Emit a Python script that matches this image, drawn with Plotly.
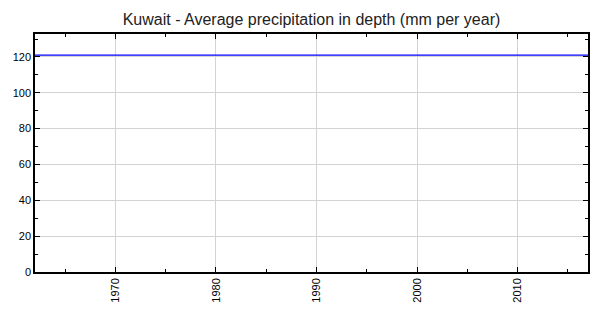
import plotly.graph_objects as go

years = list(range(1962, 2018))
precip = [121] * len(years)

title = "Kuwait - Average precipitation in depth (mm per year)"

fig = go.Figure()
fig.add_trace(go.Scatter(x=years, y=precip, mode="lines",
                         line=dict(color="#0000ff", width=1.3), showlegend=False))

fig.update_layout(
    width=600, height=315,
    margin=dict(l=35, r=10, t=34, b=43),
    paper_bgcolor="white", plot_bgcolor="white",
    title=dict(text=title, xref="paper", x=0.5, xanchor="center", y=0.94, yanchor="middle",
               font=dict(family="Liberation Sans, Arial", size=16, color="#222222")),
    font=dict(family="Liberation Sans, Arial", size=11, color="black"),
)
fig.update_xaxes(range=[1962, 2017], tickmode="array", tickvals=[1970, 1980, 1990, 2000, 2010],
                 ticktext=["1970", "1980", "1990", "2000", "2010"], tickangle=-90,
                 ticks="inside", ticklen=5, tickcolor="black", showline=True, linecolor="black",
                 linewidth=1.5, mirror="ticks", showgrid=True, gridcolor="#d3d3d3", zeroline=False,
                 minor=dict(ticks="inside", ticklen=3, tickcolor="black", tickvals=[1965, 1975, 1985, 1995, 2005, 2015], showgrid=False))
fig.update_yaxes(range=[0, 132.8], tickmode="array", tickvals=[0, 20, 40, 60, 80, 100, 120],
                 ticks="inside", ticklen=5, tickcolor="black", showline=True, linecolor="black",
                 linewidth=1.5, mirror="ticks", showgrid=True, gridcolor="#d3d3d3", zeroline=False,
                 minor=dict(ticks="inside", ticklen=3, tickcolor="black", tickvals=[10, 30, 50, 70, 90, 110, 130], showgrid=False))

fig.write_html("out.html")
